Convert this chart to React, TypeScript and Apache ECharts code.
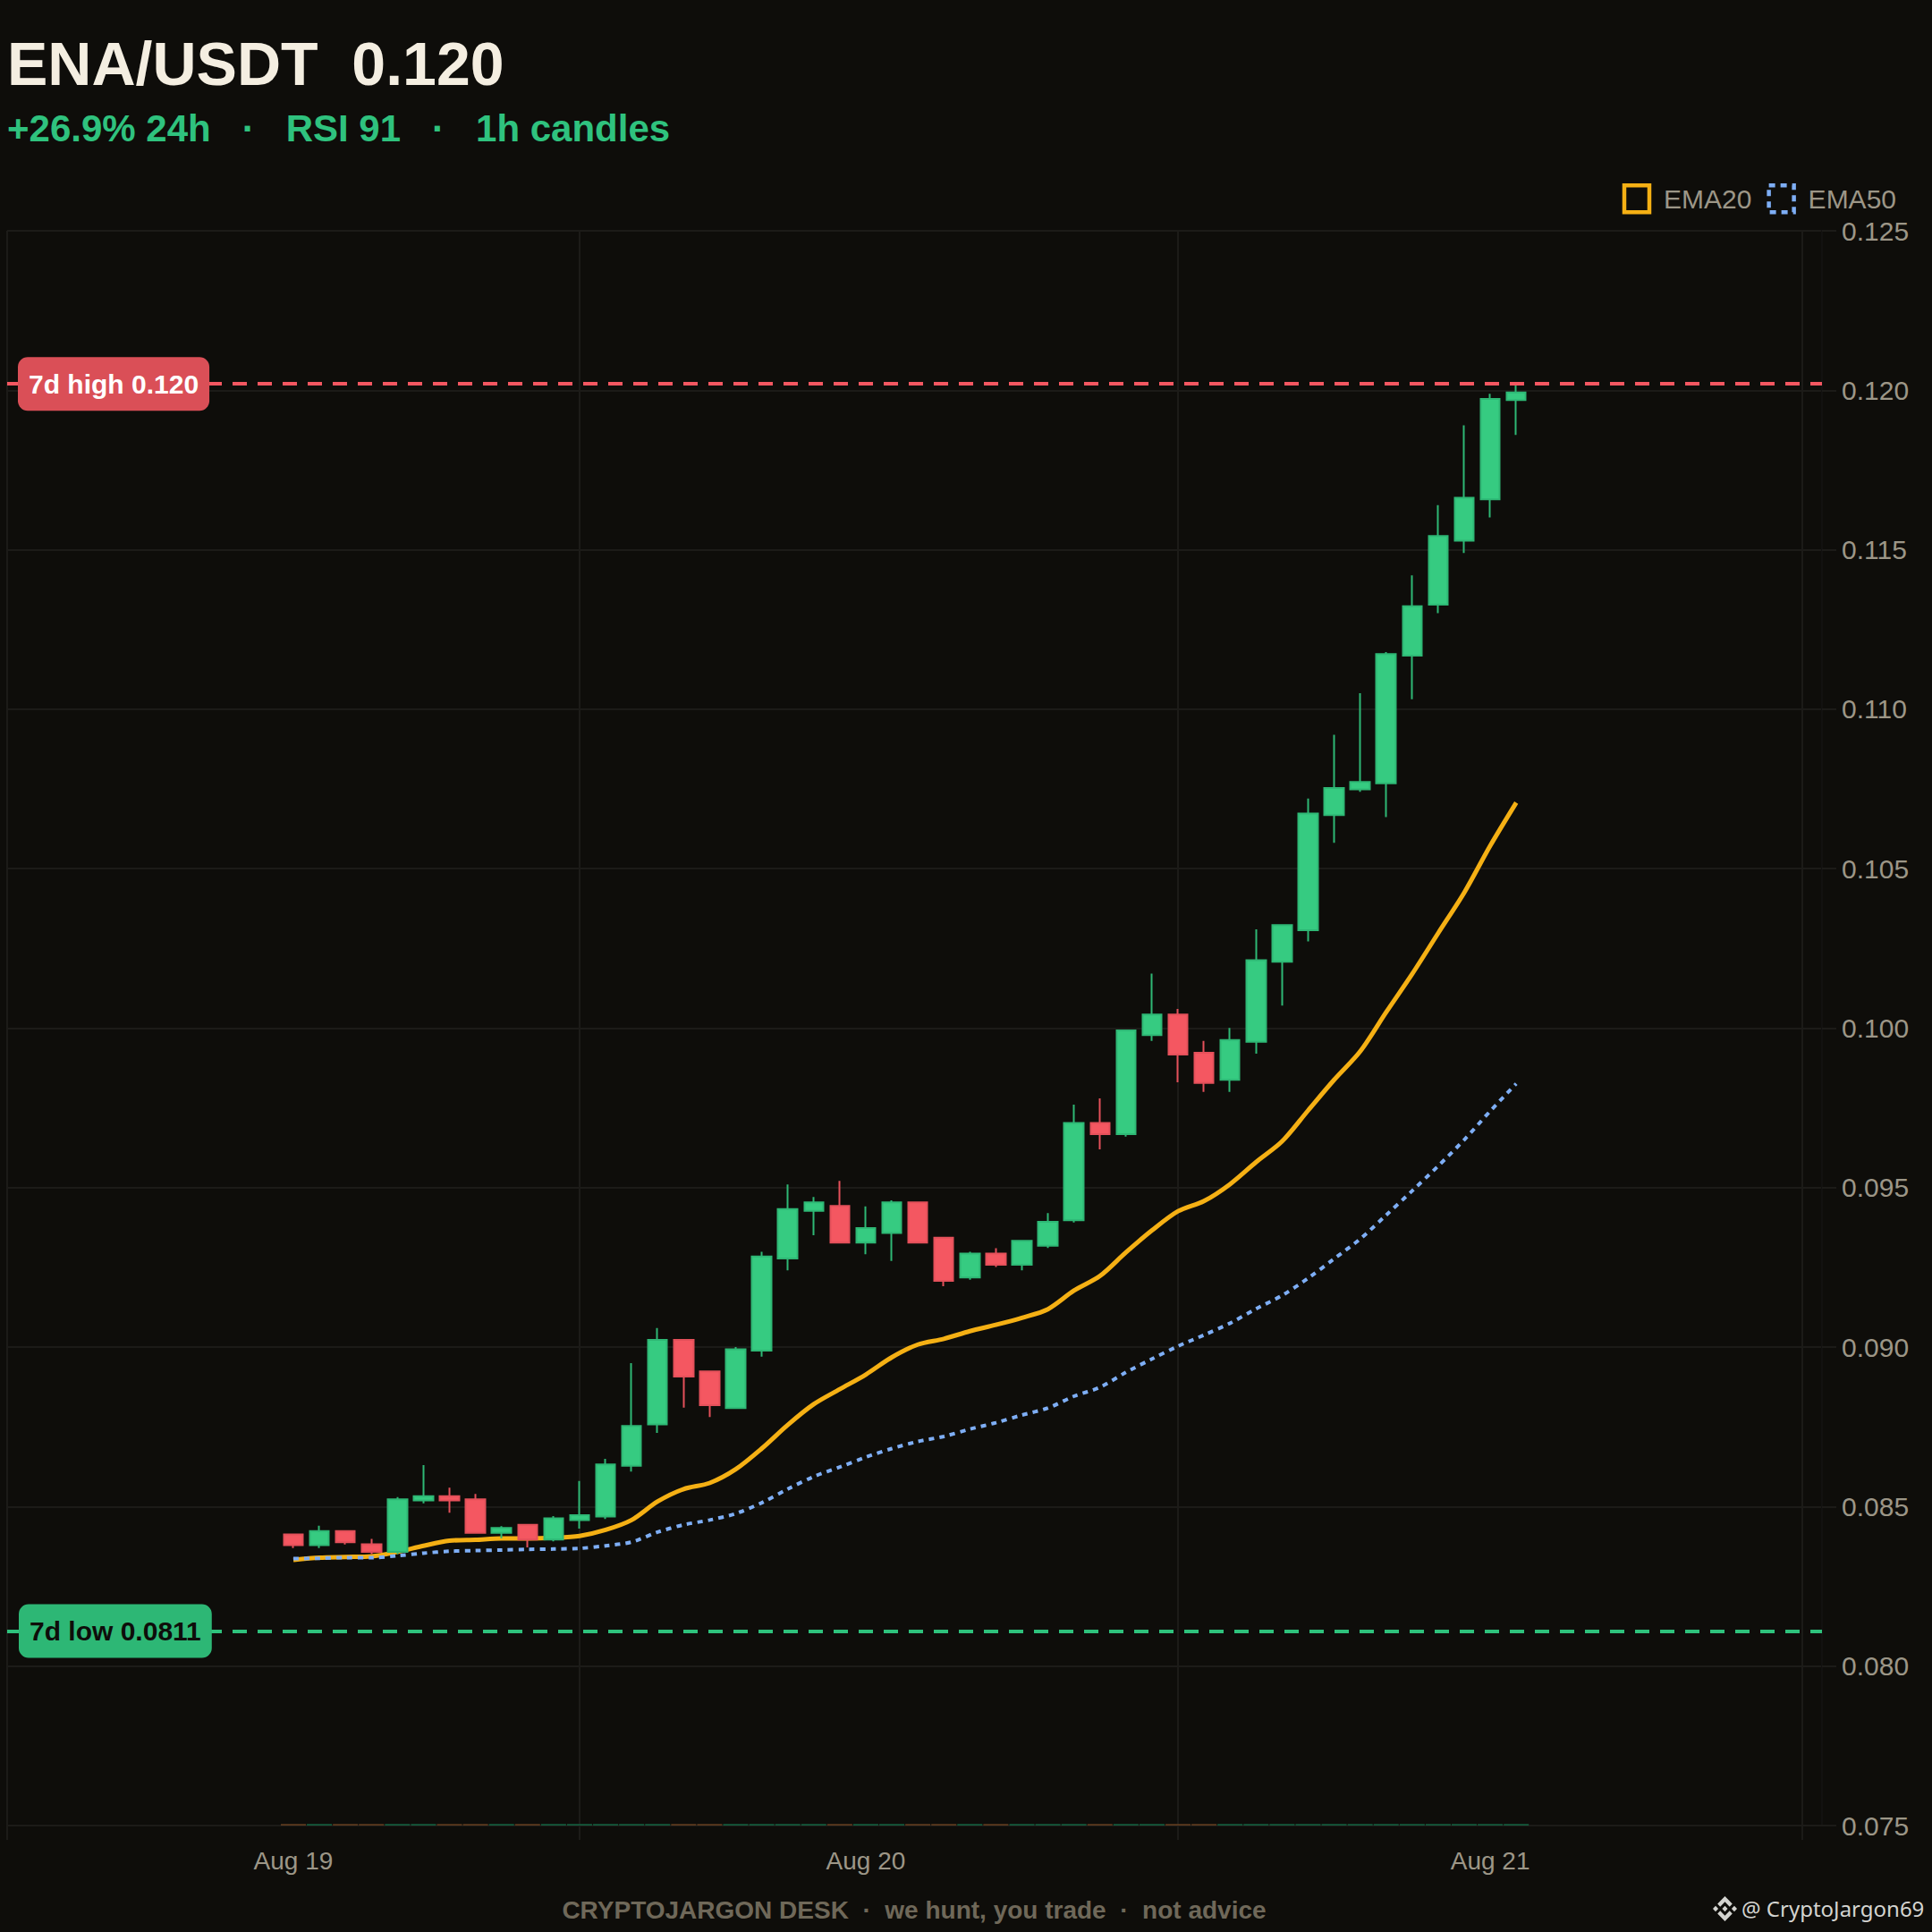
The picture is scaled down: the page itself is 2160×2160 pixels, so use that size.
import React, { useEffect, useRef } from "react";
import * as echarts from "echarts";

const FONT = "'Liberation Sans', Arial, sans-serif";

const xLabelIndex = [0, 22, 46];
const xLabels = ["Aug 19", "Aug 20", "Aug 21"];
const xGridIndex = [-11, 11, 34, 58];

const opens = [
  0.08413, 0.08379, 0.08423, 0.08382, 0.08358, 0.08519, 0.08533, 0.08523, 0.08418, 0.08443, 0.08397, 0.08458,
  0.08469, 0.08628, 0.08758, 0.09023, 0.08924, 0.08809, 0.08989, 0.09278, 0.09427, 0.09443, 0.09328, 0.09358,
  0.09454, 0.09343, 0.09218, 0.09293, 0.09258, 0.09318, 0.09398, 0.09703, 0.09668, 0.09978, 0.10043, 0.09923,
  0.09838, 0.09957, 0.10208, 0.10307, 0.10668, 0.10749, 0.10768, 0.11168, 0.11328, 0.11528, 0.11658, 0.11969,
];
const closes = [
  0.08379, 0.08423, 0.08388, 0.08358, 0.08523, 0.08533, 0.08519, 0.08418, 0.08433, 0.08397, 0.08463, 0.08473,
  0.08632, 0.08753, 0.09023, 0.08908, 0.08818, 0.08993, 0.09284, 0.09433, 0.09454, 0.09328, 0.09373, 0.09454,
  0.09328, 0.09208, 0.09293, 0.09258, 0.09333, 0.09393, 0.09703, 0.09668, 0.09993, 0.10043, 0.09917, 0.09828,
  0.09963, 0.10213, 0.10323, 0.10673, 0.10753, 0.10772, 0.11173, 0.11323, 0.11543, 0.11663, 0.11973, 0.11993,
];
const lows = [
  0.0837, 0.0837, 0.08381, 0.08351, 0.08351, 0.0851, 0.08481, 0.08418, 0.08401, 0.08372, 0.08391, 0.08431,
  0.08461, 0.0861, 0.08731, 0.0881, 0.08781, 0.08809, 0.0897, 0.09241, 0.09351, 0.09328, 0.09291, 0.0927,
  0.09328, 0.09191, 0.09211, 0.09251, 0.09241, 0.09311, 0.09391, 0.0962, 0.0966, 0.0996, 0.0983, 0.098,
  0.098, 0.0992, 0.10071, 0.10272, 0.10581, 0.10741, 0.10662, 0.11031, 0.11301, 0.1149, 0.11601, 0.1186,
];
const highs = [
  0.08413, 0.0844, 0.08423, 0.08399, 0.0853, 0.0863, 0.08559, 0.0854, 0.08439, 0.08443, 0.0847, 0.0858,
  0.0865, 0.0895, 0.0906, 0.09023, 0.08924, 0.09, 0.09299, 0.0951, 0.09471, 0.09521, 0.09441, 0.0946,
  0.09454, 0.09343, 0.09299, 0.0931, 0.09333, 0.0942, 0.0976, 0.0978, 0.09993, 0.10171, 0.1006, 0.0996,
  0.10001, 0.1031, 0.10323, 0.1072, 0.1092, 0.1105, 0.11179, 0.1142, 0.1164, 0.1189, 0.11989, 0.12015,
];
const ema20 = [
  0.08333, 0.0834, 0.08342, 0.08344, 0.08358, 0.08377, 0.08393, 0.08396, 0.084, 0.084, 0.08402, 0.08408,
  0.08427, 0.08458, 0.08516, 0.08555, 0.08574, 0.08617, 0.08682, 0.08756, 0.08821, 0.08868, 0.08914, 0.08968,
  0.09008, 0.09026, 0.0905, 0.0907, 0.09092, 0.09119, 0.09177, 0.09223, 0.09297, 0.09366, 0.09426, 0.09458,
  0.09511, 0.0958, 0.09645, 0.09742, 0.09838, 0.09927, 0.1005, 0.1017, 0.10298, 0.10425, 0.10572, 0.10707,
];
const ema50 = [
  0.08337, 0.08338, 0.0834, 0.0834, 0.08346, 0.08354, 0.0836, 0.08362, 0.08364, 0.08366, 0.08367, 0.08369,
  0.08377, 0.08389, 0.0842, 0.08443, 0.08458, 0.08478, 0.08512, 0.08555, 0.08594, 0.08624, 0.08655, 0.08682,
  0.08704, 0.0872, 0.08743, 0.08763, 0.08787, 0.08809, 0.08846, 0.08874, 0.08921, 0.08963, 0.09003, 0.09038,
  0.09075, 0.0912, 0.09162, 0.09216, 0.09277, 0.09339, 0.09414, 0.0949, 0.09568, 0.0965, 0.0974, 0.09826,
];
const sevenDayHigh = 0.1202;
const sevenDayLow = 0.0811;
const yTickMin = 0.075;
const yTickMax = 0.125;
const yTickStep = 0.005;

const BG = "#0e0d0a";
const GRID = "#1c1b18";
const AXIS_TEXT = "#9c9687";
const GREEN = "#36cb81";
const GREEN_EDGE = "#2eb875";
const RED = "#f45761";
const RED_EDGE = "#e4505a";
const ORANGE = "#f5b014";
const BLUE = "#7eaef5";

const LOGO =
  "M38.73 53.2l24.59-24.58 24.6 24.6 14.3-14.31L63.32 0 24.43 38.9zM0 63.31l14.3-14.31 14.31 14.31-14.31 14.3zM38.73 73.41l24.59 24.59 24.6-24.6 14.31 14.29-38.9 38.91-38.91-38.88zM98.28 63.31l14.3-14.31 14.31 14.3-14.31 14.3zM77.83 63.3L63.32 48.78 52.59 59.51 51.35 60.74 48.81 63.28 63.32 77.79 77.83 63.3z";

export default function App() {
  const ref = useRef<HTMLDivElement>(null);
  useEffect(() => {
    if (!ref.current) return;
    document.body.style.margin = "0";
    document.body.style.background = BG;
    echarts.graphic.registerShape("logo", echarts.graphic.extendPath(LOGO, {}) as any);
    const chart = echarts.init(ref.current, undefined, { renderer: "svg" });
    const idx = opens.map((_, i) => i);
    chart.setOption({
      animation: false,
      backgroundColor: BG,
      textStyle: { fontFamily: FONT },
      title: [
        {
          text: "ENA/USDT  0.120",
          left: 8,
          top: 37,
          padding: 0,
          textStyle: { color: "#f4eee1", fontSize: 68, fontWeight: "bold", fontFamily: FONT },
        },
        {
          text: "+26.9% 24h   ·   RSI 91   ·   1h candles",
          left: 8,
          top: 122,
          padding: 0,
          textStyle: { color: "#2fc27e", fontSize: 42, fontWeight: "bold", fontFamily: FONT },
        },
        {
          text: "CRYPTOJARGON DESK  ·  we hunt, you trade  ·  not advice",
          left: 1022,
          textAlign: "center",
          top: 2121,
          padding: 0,
          textStyle: { color: "#6f6859", fontSize: 28, fontWeight: "bold", fontFamily: FONT },
        },
      ],
      legend: {
        right: 35,
        top: 200,
        itemWidth: 28,
        itemHeight: 30,
        itemGap: 17,
        selectedMode: false,
        textStyle: { color: AXIS_TEXT, fontSize: 30, fontFamily: FONT, padding: [0, 0, 0, 11] },
        data: [
          {
            name: "EMA20",
            icon: "rect",
            itemStyle: { color: "transparent", borderColor: ORANGE, borderWidth: 4.5 },
          },
          {
            name: "EMA50",
            icon: "rect",
            itemStyle: { color: "transparent", borderColor: BLUE, borderWidth: 4.5, borderType: [7, 6] },
          },
        ],
      },
      grid: { left: 8, right: 123, top: 258, bottom: 119, containLabel: false },
      xAxis: {
        type: "value",
        min: -11,
        max: 58.75,
        axisLine: { show: true, onZero: false, lineStyle: { color: GRID, width: 2 } },
        axisTick: { show: true, length: 16, customValues: xGridIndex, lineStyle: { color: GRID, width: 2 } },
        splitLine: { show: true, lineStyle: { color: GRID, width: 2 } },
        axisLabel: {
          customValues: xLabelIndex,
          color: AXIS_TEXT,
          fontSize: 28,
          fontFamily: FONT,
          margin: 25,
          formatter: (v: number) => xLabels[xLabelIndex.indexOf(v)] ?? "",
        },
      },
      yAxis: [
        {
          type: "value",
          position: "right",
          min: yTickMin,
          max: yTickMax,
          interval: yTickStep,
          axisLine: { show: true, onZero: false, lineStyle: { color: "#121110", width: 2 } },
          axisTick: { show: true, length: 16, lineStyle: { color: GRID, width: 2 } },
          splitLine: { show: true, lineStyle: { color: GRID, width: 2 } },
          axisLabel: {
            color: AXIS_TEXT,
            fontSize: 30,
            fontFamily: FONT,
            margin: 22,
            formatter: (v: number) => v.toFixed(3),
          },
        },
        { type: "value", show: false, min: 0, max: 1000, axisLine: { onZero: false }, splitLine: { show: false } },
      ],
      series: [
        {
          name: "Volume",
          type: "bar",
          yAxisIndex: 1,
          barWidth: 28,
          silent: true,
          z: 1,
          data: idx.map((i) => ({
            value: [i, 1],
            itemStyle: { color: closes[i] >= opens[i] ? "#155a3c" : "#5c3a1e" },
          })),
        },
        {
          name: "EMA20",
          type: "line",
          z: 2,
          showSymbol: false,
          smooth: 0.3,
          lineStyle: { color: ORANGE, width: 5 },
          itemStyle: { color: ORANGE },
          data: idx.map((i) => [i, ema20[i]]),
        },
        {
          name: "EMA50",
          type: "line",
          z: 2,
          showSymbol: false,
          smooth: 0.3,
          lineStyle: { color: BLUE, width: 4, type: [6, 6] },
          itemStyle: { color: BLUE },
          data: idx.map((i) => [i, ema50[i]]),
        },
        {
          name: "Price",
          type: "candlestick",
          z: 3,
          barWidth: 22,
          itemStyle: {
            color: GREEN,
            color0: RED,
            borderColor: GREEN_EDGE,
            borderColor0: RED_EDGE,
            borderWidth: 2,
          },
          data: idx.map((i) => [i, opens[i], closes[i], lows[i], highs[i]]),
          markLine: {
            silent: true,
            symbol: "none",
            animation: false,
            precision: 4,
            data: [
              {
                yAxis: sevenDayHigh,
                lineStyle: { color: RED, type: [16, 12], width: 4 },
                label: {
                  show: true,
                  position: "insideStart",
                  distance: 12,
                  formatter: "7d high 0.120",
                  color: "#ffffff",
                  backgroundColor: "#da4f57",
                  borderRadius: 11,
                  padding: [15, 12],
                  fontSize: 30,
                  fontWeight: "bold",
                  fontFamily: FONT,
                },
              },
              {
                yAxis: sevenDayLow,
                lineStyle: { color: "#2ec27c", type: [16, 12], width: 4 },
                label: {
                  show: true,
                  position: "insideStart",
                  distance: 13,
                  formatter: "7d low 0.0811",
                  color: "#0e0d0a",
                  backgroundColor: "#2db775",
                  borderRadius: 11,
                  padding: [15, 12],
                  fontSize: 30,
                  fontWeight: "bold",
                  fontFamily: FONT,
                },
              },
            ],
          },
        },
      ],
      graphic: [
        {
          type: "logo",
          x: 1915,
          y: 2120,
          scaleX: 27 / 126.61,
          scaleY: 28 / 126.61,
          silent: true,
          style: { fill: "#d4d4d0" },
        },
        {
          type: "text",
          x: 1947,
          y: 2121,
          silent: true,
          style: { text: "@ CryptoJargon69", fill: "#d4d4d0", fontSize: 24, fontFamily: "'Noto Sans', sans-serif" },
        },
      ],
    });
    return () => chart.dispose();
  }, []);
  return (
    <div
      ref={ref}
      style={{ position: "absolute", left: 0, top: 0, width: 2160, height: 2160 }}
    />
  );
}
